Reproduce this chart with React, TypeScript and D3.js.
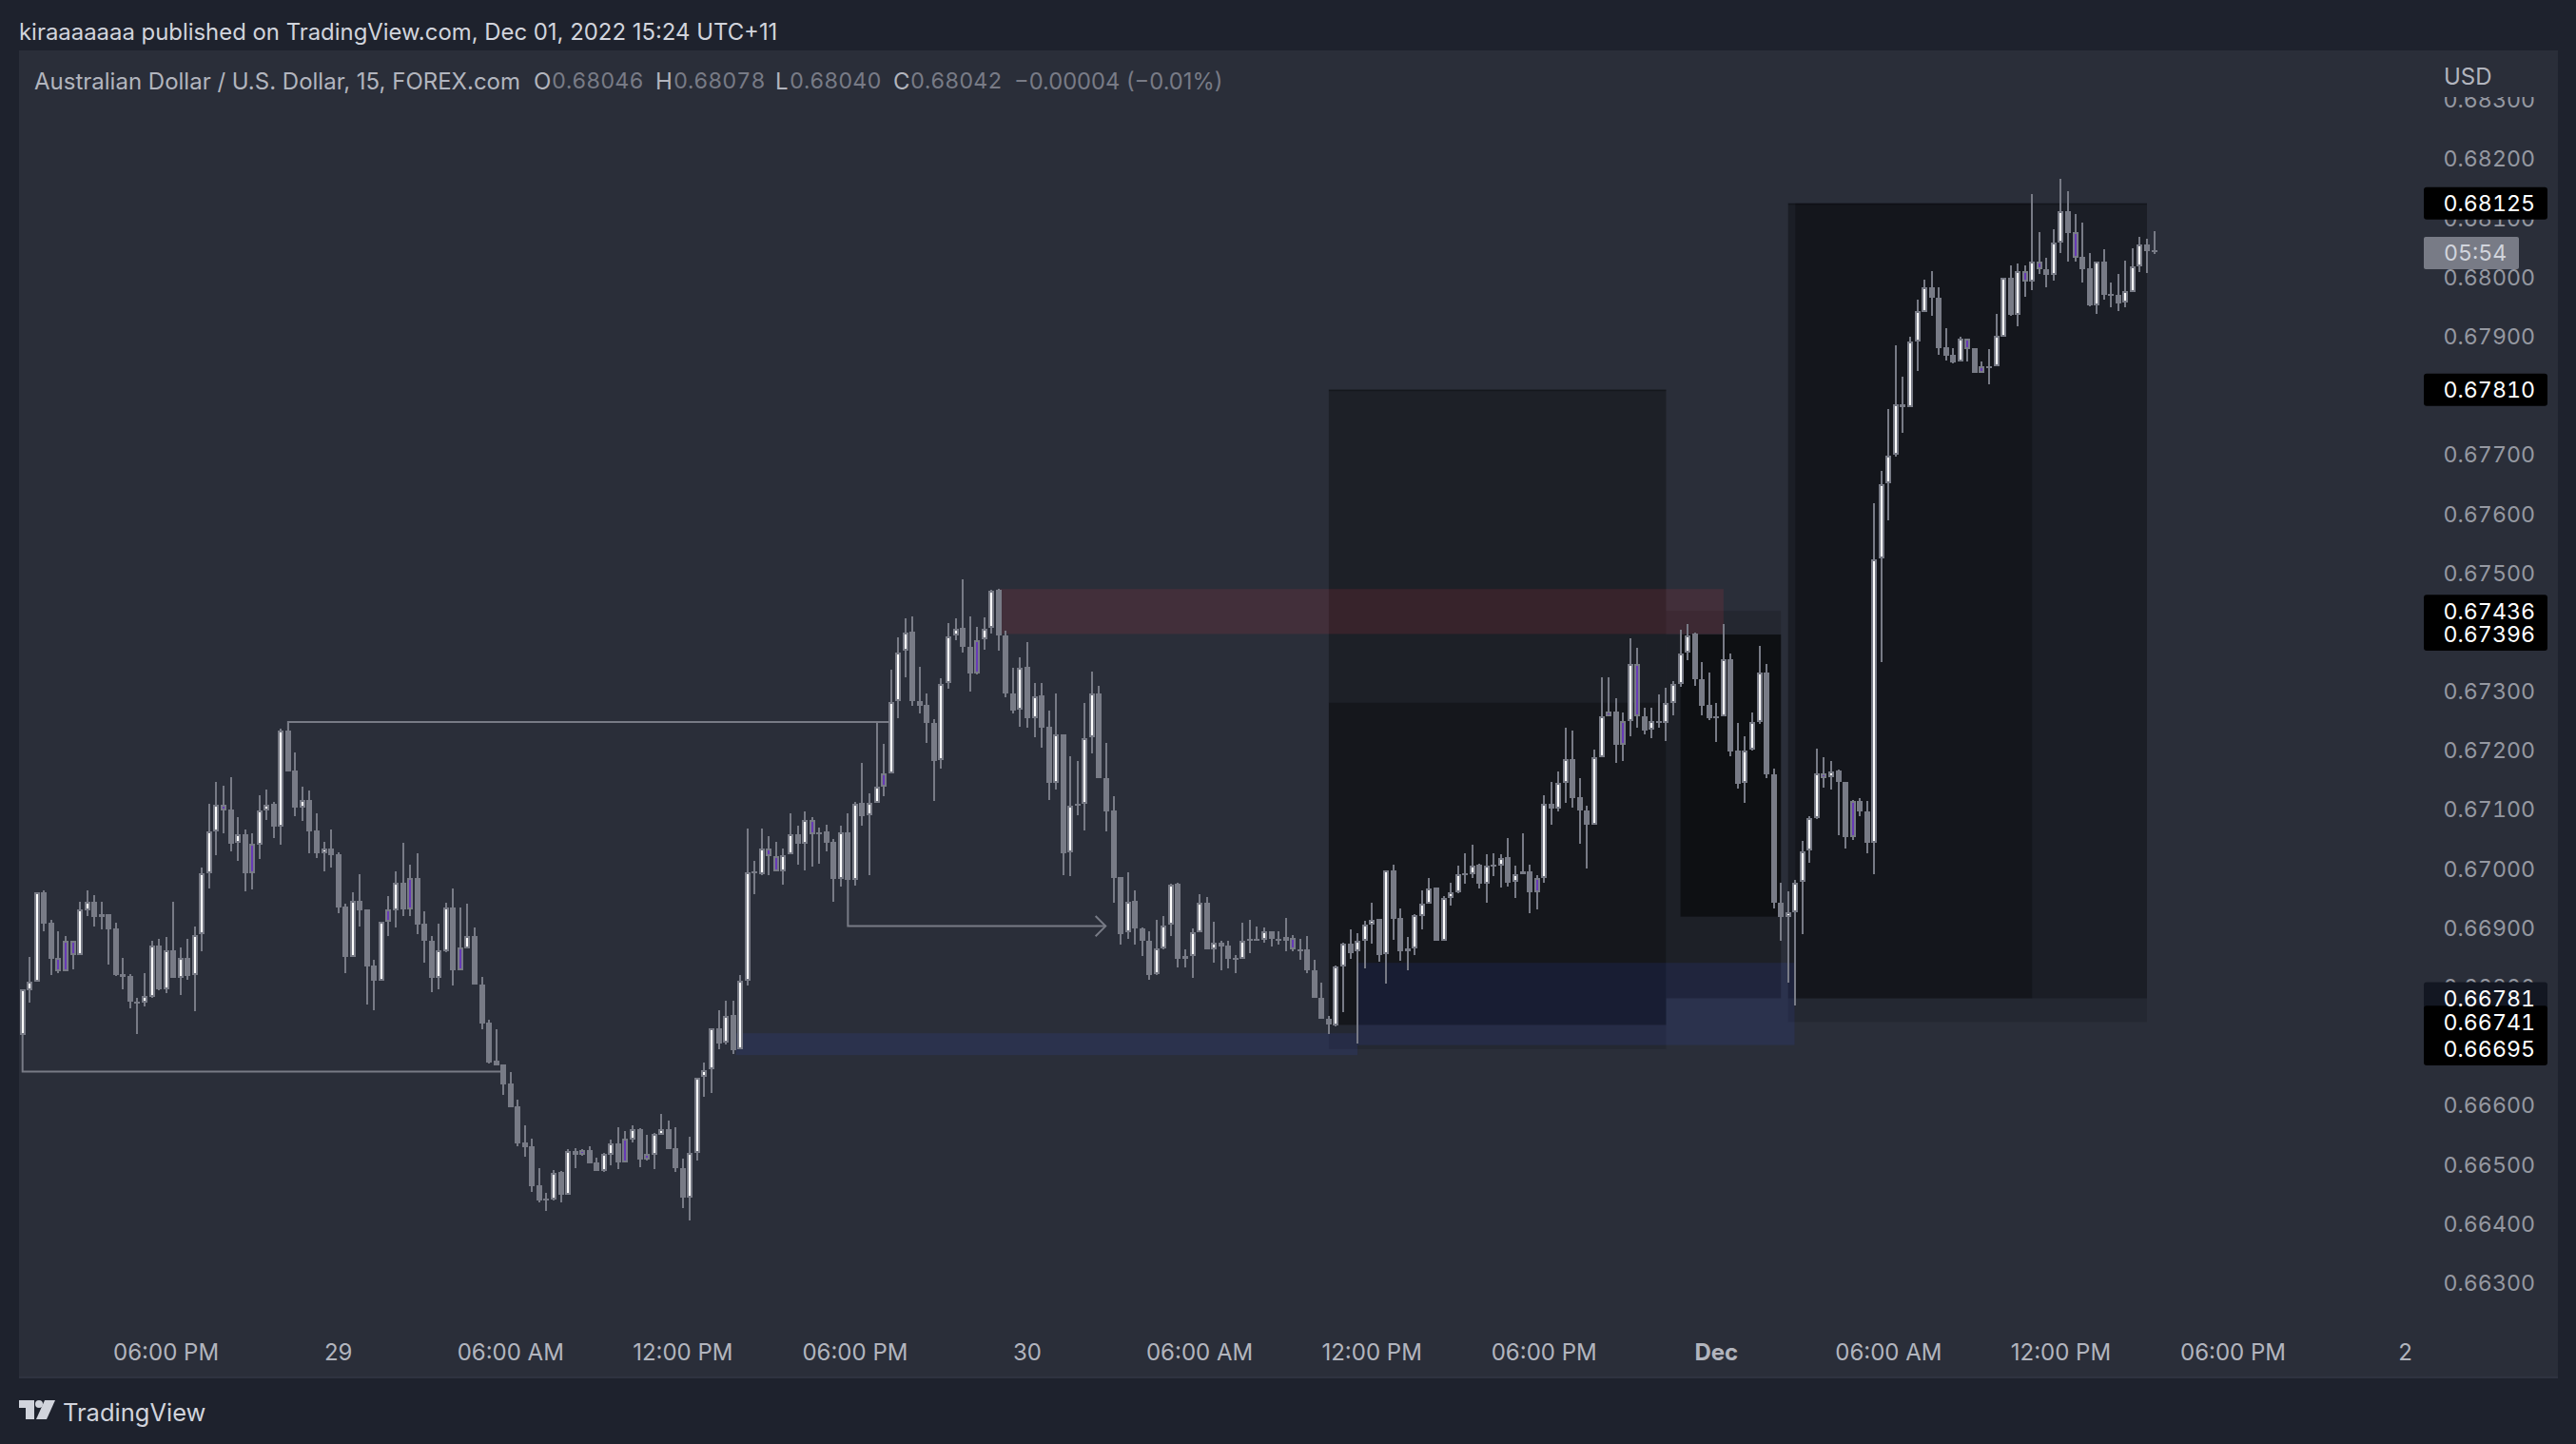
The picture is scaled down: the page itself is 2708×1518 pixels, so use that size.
import React from "react";
import * as d3 from "d3";

// Prices are in units of 0.00001 USD
const bodyHighs = [
66796,66809,66960,66960,66909,66849,66878,66878,66931,66944,
66944,66923,66923,66899,66822,66819,66776,66785,66871,66871,
66862,66862,66850,66850,66888,66993,67063,67108,67108,67100,
67059,67059,67042,67099,67109,67110,67234,67234,67166,67117,
67117,67065,67034,67034,67025,66936,66945,66945,66931,66836,
66910,66931,66977,66977,66984,66984,66907,66879,66862,66934,
66934,66867,66886,66886,66805,66740,66676,66669,66637,66599,
66538,66531,66465,66443,66486,66487,66523,66523,66525,66525,
66504,66518,66536,66536,66544,66560,66560,66518,66552,66560,
66560,66527,66494,66519,66647,66660,66730,66731,66752,66753,
66811,66994,66995,67035,67035,67022,67023,67058,67059,67083,
67083,67062,67063,67046,67061,67062,67110,67111,67111,67138,
67161,67282,67366,67400,67401,67284,67277,67247,67313,67393,
67406,67407,67375,67387,67406,67470,67471,67395,67297,67340,
67342,67292,67293,67240,67228,67228,67107,67110,67221,67297,
67297,67154,67098,66986,66944,66945,66899,66879,66865,66904,
66973,66974,66852,66892,66943,66943,66875,66875,66870,66849,
66879,66882,66882,66894,66894,66882,66884,66883,66864,66863,
66829,66782,66747,66835,66874,66874,66878,66906,66914,66915,
66997,66997,66917,66866,66921,66941,66967,66969,66951,66960,
66991,66992,67006,67007,67006,67007,67018,67019,66991,66995,
66996,66985,67110,67110,67145,67185,67185,67121,67099,67188,
67258,67266,67266,67250,67346,67346,67258,67249,67250,67280,
67312,67364,67395,67397,67321,67277,67257,67354,67354,67200,
67200,67248,67331,67331,67160,66943,66926,66977,67030,67086,
67162,67162,67164,67166,67147,67114,67114,67097,67523,67650,
67699,67785,67786,67891,67943,67983,67983,67965,67881,67869,
67896,67896,67880,67850,67850,67901,67999,67999,68011,68011,
68026,68026,68014,68059,68111,68111,68076,68034,68015,68026,
68026,67972,67970,67976,68018,68055,68055,68046];

const bodyLows = [
66719,66795,66809,66908,66848,66826,66826,66854,66854,66930,
66919,66919,66898,66820,66817,66776,66774,66774,66783,66796,
66797,66816,66816,66819,66820,66889,66993,67063,67099,67043,
67044,66993,66993,67041,67099,67071,67072,67165,67104,67104,
67064,67027,67027,67023,66935,66851,66851,66930,66835,66811,
66811,66910,66930,66931,66931,66906,66879,66815,66815,66861,
66828,66828,66866,66805,66738,66673,66668,66636,66597,66536,
66530,66464,66439,66440,66441,66449,66449,66517,66516,66502,
66489,66489,66517,66504,66504,66542,66509,66509,66517,66550,
66526,66494,66444,66444,66519,66648,66661,66705,66706,66694,
66695,66811,66992,66991,67021,66996,66996,67024,67042,67043,
67059,67060,67044,66982,66982,66981,66981,67089,67090,67111,
67138,67161,67284,67368,67283,67276,67246,67183,67184,67314,
67394,67375,67330,67330,67388,67407,67394,67296,67267,67269,
67254,67255,67238,67145,67146,67027,67028,67108,67110,67223,
67154,67097,66985,66889,66892,66899,66879,66820,66822,66865,
66905,66848,66848,66853,66893,66863,66864,66869,66848,66848,
66848,66879,66879,66880,66882,66878,66879,66863,66861,66829,
66782,66746,66736,66735,66835,66858,66860,66879,66906,66854,
66855,66916,66861,66861,66866,66920,66941,66878,66878,66951,
66960,66990,66991,66974,66974,67005,67006,66977,66978,66991,
66960,66960,66985,67101,67101,67145,67120,67098,67075,67075,
67188,67258,67210,67210,67250,67258,67234,67235,67246,67247,
67280,67312,67366,67320,67276,67255,67255,67257,67199,67143,
67145,67201,67248,67160,66943,66918,66918,66927,66978,67031,
67085,67154,67155,67147,67054,67054,67097,67044,67044,67525,
67652,67700,67780,67781,67891,67942,67965,67880,67868,67856,
67857,67879,67838,67838,67848,67849,67900,67936,67937,67992,
67993,68014,68004,68004,68059,68075,68033,68014,67952,67953,
67970,67969,67955,67957,67975,68018,68044,68042];

const highs = [
66797,66851,66961,66964,66914,66894,66887,66878,66944,66964,
66955,66944,66923,66909,66849,66822,66781,66824,66879,66881,
66885,66944,66867,66881,66902,67002,67110,67147,67141,67155,
67088,67067,67060,67124,67134,67113,67237,67249,67196,67139,
67132,67094,67045,67066,67028,66941,66961,66991,66931,66846,
66910,66954,66996,67044,67007,67026,66928,66887,66907,66943,
66967,66935,66941,66901,66817,66744,66728,66669,66657,66610,
66566,66544,66494,66452,66491,66489,66526,66528,66526,66531,
66512,66520,66542,66563,66557,66566,66562,66550,66554,66586,
66574,66563,66510,66547,66647,66673,66731,66761,66777,66777,
66820,67068,67014,67068,67055,67046,67034,67093,67073,67097,
67088,67070,67075,67050,67073,67093,67113,67179,67127,67248,
67211,67337,67391,67423,67426,67341,67297,67253,67322,67416,
67424,67490,67426,67409,67425,67472,67474,67402,67340,67358,
67383,67314,67314,67268,67297,67228,67190,67182,67281,67334,
67309,67213,67123,66986,66994,66963,66901,66894,66914,66920,
66974,66976,66863,66899,66957,66953,66910,66879,66879,66854,
66909,66913,66902,66901,66895,66894,66917,66888,66882,66887,
66846,66808,66752,66837,66875,66897,66891,66912,66943,66916,
66997,67007,66933,66885,66923,66964,66984,66969,66954,66976,
67006,67027,67040,67008,67024,67027,67024,67052,67006,67060,
67007,66989,67124,67147,67164,67239,67234,67154,67106,67202,
67323,67323,67289,67264,67389,67374,67273,67273,67294,67306,
67318,67404,67413,67400,67350,67331,67280,67414,67364,67247,
67224,67265,67377,67347,67170,66977,66962,66981,67047,67089,
67203,67189,67183,67167,67147,67116,67120,67114,67618,67673,
67777,67885,67832,67899,67962,67996,68011,67983,67914,67880,
67900,67896,67880,67858,67879,67938,67999,68020,68024,68020,
68140,68077,68033,68081,68166,68145,68107,68092,68041,68026,
68047,67991,68005,68028,68049,68068,68065,68078];

const lows = [
66719,66773,66809,66895,66820,66823,66826,66830,66854,66920,
66903,66898,66838,66818,66796,66764,66720,66767,66782,66795,
66789,66816,66787,66812,66760,66861,66967,67023,67060,67029,
67014,66962,66965,67017,67083,67052,67040,67165,67089,67081,
67027,67018,66996,67002,66925,66824,66851,66903,66771,66761,
66811,66886,66900,66920,66920,66890,66841,66792,66796,66859,
66802,66828,66866,66805,66728,66671,66668,66618,66597,66531,
66513,66454,66436,66422,66439,66436,66449,66494,66515,66502,
66489,66488,66499,66492,66504,66538,66496,66507,66492,66550,
66526,66487,66426,66405,66507,66614,66621,66695,66703,66687,
66695,66803,66957,66990,66990,66996,66973,67024,67007,66998,
67003,67009,67029,66944,66970,66981,66971,67073,66990,67111,
67123,67161,67254,67323,67276,67262,67212,67114,67170,67305,
67387,67365,67299,67328,67371,67398,67368,67290,67263,67240,
67238,67222,67204,67116,67134,66989,66987,67090,67065,67195,
67154,67064,66943,66872,66881,66872,66852,66813,66820,66863,
66887,66833,66833,66815,66893,66863,66842,66829,66831,66824,
66847,66858,66879,66875,66869,66872,66860,66860,66846,66824,
66782,66746,66720,66734,66758,66847,66704,66831,66874,66843,
66806,66880,66844,66829,66854,66897,66941,66878,66878,66937,
66958,66974,66984,66967,66943,66987,66968,66970,66950,66991,
66925,66931,66976,67074,67097,67112,67104,67043,67001,67075,
67188,67258,67179,67183,67224,67239,67227,67221,67238,67216,
67260,67307,67352,67310,67260,67252,67215,67257,67191,67135,
67111,67200,67245,67154,66933,66879,66808,66769,66889,67010,
67084,67137,67134,67057,67034,67049,67089,67027,66991,67349,
67589,67697,67737,67781,67841,67942,67935,67869,67859,67854,
67857,67858,67838,67838,67819,67849,67900,67935,67917,67967,
67978,68006,67983,67994,68041,68026,68026,67991,67951,67938,
67962,67949,67943,67949,67975,68009,68007,68040];

// W = rising (hollow white), G = falling (solid grey), P = rising, painted purple
const kinds =
  "WWWGGPPPWW" + "GGGGGGGWWG" + "WGWGWWWWPG" + "WGPWWGWGGW" + "GGWGGGWGGG" +
  "WPWGPGGGWW" + "GPWGGGGGGG" + "GGGGWGWGPG" + "GWWGPWGPWW" + "GGGWWWWGWG" +
  "WWGWPPWWGW" + "PGGGWGWGWW" + "PWWWGGGGWW" + "WGGPWWGGGW" + "GWGGWGWGWW" +
  "GGGGWGGGWW" + "WGGWWGWGGG" + "WGGWGGGPGG" + "GGGWWGWWWG" + "WGGGWWWGWW" +
  "WGWGWGWGWG" + "GPWGWWGGGW" + "WPGPWPGWGW" + "WWWGGGGWGG" + "WWWGGGWWWW" +
  "WPWGGPGGWW" + "WWGWWWGGGG" + "WPGPGWWGWP" + "WPGWWGPGGW" + "GGGWWWGG";

const priceTicks = [68300,68200,68100,68000,67900,67800,67700,67600,67500,67400,67300,67200,67100,67000,66900,66800,66700,66600,66500,66400,66300];
const drawingLevels = [68125,67810,67436,67396];
const lowerLevels = [66741,66695];
const navyLevel = 66781;

const timeTickBars = [20,44,68,92,116,140,164,188,212,236,260,284,308,332];
const timeTickLabels = ["06:00 PM","29","06:00 AM","12:00 PM","06:00 PM","30","06:00 AM","12:00 PM","06:00 PM","Dec","06:00 AM","12:00 PM","06:00 PM","2"];

// [firstBar, lastBar, topPrice, bottomPrice, blackAlpha]
const shadeBoxes: [number, number, number, number, number][] = [
  [182,229,67810,67281,0.3],
  [182,229,67281,66736,0.5],
  [182,229,66736,66695,0.12],
  [229,245,67436,67396,0.14],
  [229,245,67396,66781,0.3],
  [231,245,67396,66919,0.5],
  [246,296,68125,66741,0.12],
  [246,296,68125,66781,0.24],
  [247,280,68125,66781,0.25],
];
const redZone: [number, number, number, number] = [136,237,67473,67397];
const blueZones: [number, number, number, number][] = [
  [99.4,186,66722,66685],
  [186,246.9,66841,66702],
];

const lowerBracket: [number, number][] = [[0,66719],[0,66657],[67,66657]];
const upperBracket: [number, number][] = [[37,67234],[37,67248],[121,67248]];
const arrowPath: [number, number][] = [[115,66981],[115,66903],[150.9,66903]];
const arrowHead: [number, number][] = [[149.5,66920],[150.9,66903],[149.5,66886]];

const legendTitle = "Australian Dollar / U.S. Dollar, 15, FOREX.com";
const legendItems: [string, number, string, number][] = [
  ["O",561,"0.68046",580],["H",689,"0.68078",708],["L",815,"0.68040",830],["C",939,"0.68042",957],
];

const W = 2708, H = 1518;
const FONT = "Inter, 'Noto Sans', sans-serif";
const GREY = "#787b86";
const PURPLE = "#673ab7";
const TICK = "#9598a1";
const TABULAR: React.CSSProperties = { fontVariantNumeric: "tabular-nums" };

const x = d3.scaleLinear().domain([0, 332]).range([23.7, 2528.6]);
const y = d3.scaleLinear().domain([68000, 67000]).range([291.5, 913.3]);
const fmt = (p: number) => (p / 100000).toFixed(5);
const line = d3.line<[number, number]>().x(d => x(d[0])).y(d => y(d[1]));

function Candle({ i }: { i: number }) {
  const cx = Math.round(x(i));
  const kind = kinds[i];
  const top = Math.round(y(bodyHighs[i]));
  const bottom = Math.max(top + 2, Math.round(y(bodyLows[i])));
  const wt = Math.round(y(highs[i]));
  const wb = Math.round(y(lows[i]));
  const inner = bottom - top - 4;
  return (
    <g>
      <rect x={cx - 1} y={wt} width={2} height={Math.max(wb - wt, 1)} fill={GREY} />
      <rect x={cx - 3} y={top} width={6} height={bottom - top} fill={GREY} />
      {kind !== "G" && inner > 0 && (
        <rect x={cx - 1} y={top + 2} width={2} height={inner} fill={kind === "W" ? "#ffffff" : PURPLE} />
      )}
    </g>
  );
}

function PriceBadge({ p, fill }: { p: number; fill: string }) {
  const cy = y(p);
  return <rect x={2548} y={cy - 17} width={130} height={34} rx={3} fill={fill} />;
}

function BadgeText({ p }: { p: number }) {
  return (
    <text x={2665} y={y(p)} dy="0.36em" textAnchor="end" fill="#fff" fontSize={23.2} style={TABULAR}>
      {fmt(p)}
    </text>
  );
}

export default function App() {
  return (
    <svg
      width={W}
      height={H}
      viewBox={`0 0 ${W} ${H}`}
      style={{ position: "absolute", left: 0, top: 0, display: "block" }}
      fontFamily={FONT}
    >
      <defs>
        <clipPath id="axisClip"><rect x={2540} y={102} width={150} height={1290} /></clipPath>
      </defs>
      <rect width={W} height={H} fill="#1e222d" />
      <rect x={20} y={53} width={2669} height={1395} fill="#2a2e39" />
      <rect x={20} y={1447} width={2669} height={2} fill="#2f3340" />

      <text x={20} y={33} dy="0.36em" fill="#d1d4dc" fontSize={23.9}>
        kiraaaaaaa published on TradingView.com, Dec 01, 2022 15:24 UTC+11
      </text>

      <g fontSize={24}>
        <text x={36} y={85} dy="0.36em" fill="#b2b5be">{legendTitle}</text>
        {legendItems.map(([k, kx, v, vx]) => (
          <g key={k}>
            <text x={kx} y={85} dy="0.36em" fill="#b2b5be">{k}</text>
            <text x={vx} y={85} dy="0.36em" fill={GREY} fontSize={23.2} style={TABULAR}>{v}</text>
          </g>
        ))}
        <text x={1066} y={85} dy="0.36em" fill={GREY} fontSize={23.7}>−0.00004 (−0.01%)</text>
      </g>

      {shadeBoxes.map(([a, b, t, bt, al], i) => (
        <rect key={i} x={x(a)} y={y(t)} width={x(b) - x(a)} height={y(bt) - y(t)} fill="#000" fillOpacity={al} />
      ))}
      {[[182,229,67810],[246,296,68125]].map(([a, b, p], i) => (
        <rect key={i} x={x(a)} y={y(p)} width={x(b) - x(a)} height={1.5} fill="#000" fillOpacity={0.25} />
      ))}
      <rect
        x={x(redZone[0])} y={y(redZone[2])} width={x(redZone[1]) - x(redZone[0])} height={y(redZone[3]) - y(redZone[2])}
        fill="rgb(242,54,69)" fillOpacity={0.125}
      />
      {blueZones.map(([a, b, t, bt], i) => (
        <rect key={i} x={x(a)} y={y(t)} width={x(b) - x(a)} height={y(bt) - y(t)} fill="rgb(60,85,255)" fillOpacity={0.1} />
      ))}

      <g fill="none" stroke={GREY} strokeWidth={2}>
        <path d={line(lowerBracket)!} />
        <path d={line(upperBracket)!} />
        <path d={line(arrowPath)!} />
        <path d={line(arrowHead)!} />
      </g>

      {highs.map((_, i) => <Candle key={i} i={i} />)}

      {/* price axis */}
      <text x={2569} y={80.5} dy="0.36em" fill="#b2b5be" fontSize={24}>USD</text>
      <g clipPath="url(#axisClip)">
        {priceTicks.map(p => (
          <text key={p} x={2665} y={y(p)} dy="0.36em" textAnchor="end" fill={TICK} fontSize={23.2} style={TABULAR}>
            {fmt(p)}
          </text>
        ))}
      </g>
      <PriceBadge p={navyLevel} fill="#131722" />
      {lowerLevels.map(p => <PriceBadge key={p} p={p} fill="#000" />)}
      {drawingLevels.map(p => <PriceBadge key={p} p={p} fill="#000" />)}
      {[...drawingLevels, navyLevel, ...lowerLevels].map(p => <BadgeText key={p} p={p} />)}

      <rect x={2548} y={249} width={100} height={34} rx={2} fill={GREY} />
      <text x={2569} y={266} dy="0.36em" fill="#d1d4dc" fontSize={23.2} style={TABULAR}>05:54</text>

      {/* time axis */}
      {timeTickBars.map((b, i) => (
        <text
          key={b}
          x={x(b)}
          y={1421.5}
          dy="0.36em"
          textAnchor="middle"
          fill="#b2b5be"
          fontSize={24}
          fontWeight={timeTickLabels[i] === "Dec" ? 700 : 400}
        >
          {timeTickLabels[i]}
        </text>
      ))}

      {/* footer logo */}
      <g fill="#d1d4dc">
        <path d="M20 1472H36V1492H27V1480H20Z" />
        <circle cx={41} cy={1476} r={4} />
        <path d="M47 1472H58L49 1492H38Z" />
      </g>
      <text x={66} y={1485} dy="0.36em" fill="#d1d4dc" fontSize={25.5}>TradingView</text>
    </svg>
  );
}
